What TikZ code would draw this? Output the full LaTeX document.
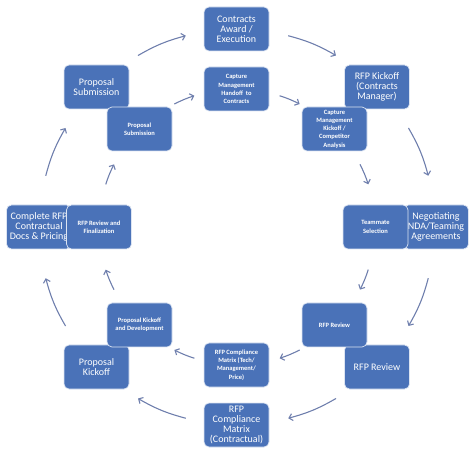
\documentclass[tikz,border=0pt]{standalone}
\usepackage{fontspec}
\setmainfont{Carlito}
\usetikzlibrary{arrows.meta}
\definecolor{boxblue}{HTML}{4A72B8}
\definecolor{boxedge}{HTML}{DCE4F2}
\definecolor{arrowcol}{HTML}{6F7FAD}
\tikzset{
  outerbox/.style={draw=boxedge, line width=0.7pt, fill=boxblue, rounded corners=5pt,
    minimum width=65pt, minimum height=44pt, inner sep=1pt, align=center,
    text=white, font=\fontsize{10}{10.2}\selectfont},
  innerbox/.style={draw=boxedge, line width=0.7pt, fill=boxblue, rounded corners=5pt,
    minimum width=65pt, minimum height=44pt, inner sep=1pt, align=center,
    text=white, font=\bfseries\fontsize{6.5}{8.2}\selectfont},
  outerarr/.style={draw=arrowcol, line width=1.1pt, -{Straight Barb[length=3.5pt,width=7pt]},
    bend left=7.5},
  innerarr/.style={draw=arrowcol, line width=1.1pt, -{Straight Barb[length=3.5pt,width=7pt]},
    bend left=4.5}
}
\begin{document}
\begin{tikzpicture}[x=1pt,y=1pt]
\useasboundingbox (0,0) rectangle (474,-454);
\coordinate (C) at (237,-227);
% outer ring
\node[outerbox] (ca)   at (236.5,-29)  {Contracts\\Award /\\Execution};
\node[outerbox] (rk)   at (377,-87)    {RFP Kickoff\\(Contracts\\Manager)};
\node[outerbox] (neg)  at (436,-227)   {Negotiating\\NDA/Teaming\\Agreements};
\node[outerbox] (rr)   at (377,-367)   {RFP Review};
\node[outerbox] (cmc)  at (236.5,-425) {RFP\\Compliance\\Matrix\\(Contractual)};
\node[outerbox] (pk)   at (96.5,-367)  {Proposal\\Kickoff};
\node[outerbox] (crfp) at (39,-227)    {Complete RFP\\Contractual\\Docs \& Pricing};
\node[outerbox] (ps)   at (96.5,-87)   {Proposal\\Submission};
% inner ring
\node[innerbox] (ch)   at (236.5,-89)   {Capture\\Management\\Handoff~ to\\Contracts};
\node[innerbox] (ck)   at (334.5,-129)  {Capture\\Management\\Kickoff /\\Competitor\\Analysis};
\node[innerbox] (ts)   at (375.5,-227)  {Teammate\\Selection};
\node[innerbox] (rri)  at (334.5,-325)  {RFP Review};
\node[innerbox] (cmt)  at (236.5,-365)  {RFP Compliance\\Matrix (Tech/\\Management/\\Price)};
\node[innerbox] (pkd)  at (139.5,-325)  {Proposal Kickoff\\and Development};
\node[innerbox] (rrf)  at (99,-227)     {RFP Review and\\Finalization};
\node[innerbox] (psi)  at (139.5,-129)  {Proposal\\Submission};
% arrows: arcs of the two circles, clockwise
\foreach \a [count=\i] in {135,90,45,0,-45,-90,-135,-180}{
  \coordinate (os\i) at ([shift={(\a-15:198)}]C);
  \coordinate (oe\i) at ([shift={(\a-30:198)}]C);
  \draw[outerarr] (os\i) to (oe\i);
  \coordinate (is\i) at ([shift={(\a-18:138)}]C);
  \coordinate (ie\i) at ([shift={(\a-27:138)}]C);
  \draw[innerarr] (is\i) to (ie\i);
}
\end{tikzpicture}
\end{document}
